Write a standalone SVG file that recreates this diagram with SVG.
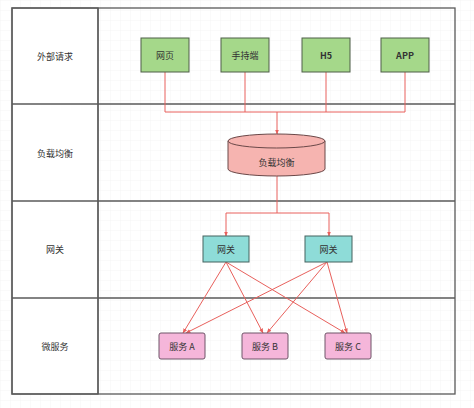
<svg xmlns="http://www.w3.org/2000/svg" width="474" height="408" viewBox="0 0 474 408">
  <defs>
    <pattern id="grid" width="10" height="10" patternUnits="userSpaceOnUse">
      <path d="M10 0H0V10" fill="none" stroke="#ececec" stroke-width="0.6"/>
    </pattern>
    <marker id="arr" viewBox="0 0 10 10" refX="9" refY="5" markerWidth="5" markerHeight="5" orient="auto-start-reverse">
      <path d="M0 1 L10 5 L0 9 Z" fill="#e8605c"/>
    </marker>
    <style>
      .lane { fill: none; stroke: #5a5a5a; stroke-width: 1.3; }
      .label { fill: #ffffff; stroke: #5a5a5a; stroke-width: 1.3; }
      .txt { font-family: "Noto Sans CJK SC", "Liberation Sans", sans-serif; font-size: 9px; fill: #333333; text-anchor: middle; dominant-baseline: central; }
      .green { fill: #a5d88a; stroke: #4f5f49; stroke-width: 1; }
      .cyan { fill: #8edcd8; stroke: #45625f; stroke-width: 1; }
      .pink { fill: #f5b6da; stroke: #6f5468; stroke-width: 1; }
      .cyl { fill: #f6b4b0; stroke: #6a4848; stroke-width: 1; }
      .conn { fill: none; stroke: #e8605c; stroke-width: 1; }
    </style>
  </defs>
  <rect x="0" y="0" width="474" height="408" fill="#ffffff"/>
  <rect x="0" y="0" width="474" height="408" fill="url(#grid)"/>

  <g id="lanes">
    <rect class="label" x="12" y="8" width="86" height="386"/>
    <rect class="lane" x="12" y="8" width="443" height="386"/>
    <line class="lane" x1="12" y1="104" x2="455" y2="104"/>
    <line class="lane" x1="12" y1="201" x2="455" y2="201"/>
    <line class="lane" x1="12" y1="298" x2="455" y2="298"/>
    <line class="lane" x1="98" y1="8" x2="98" y2="394"/>
  </g>

  <g id="lane-labels">
    <text class="txt" x="55" y="56">外部请求</text>
    <text class="txt" x="55" y="153">负载均衡</text>
    <text class="txt" x="55" y="249">网关</text>
    <text class="txt" x="55" y="346">微服务</text>
  </g>

  <g id="connectors">
    <path class="conn" d="M165 72V112H405V72"/>
    <path class="conn" d="M245 72V112"/>
    <path class="conn" d="M326 72V112"/>
    <path class="conn" d="M277 112V134" marker-end="url(#arr)"/>
    <path class="conn" d="M277 176V213H226V236" marker-end="url(#arr)"/>
    <path class="conn" d="M277 213H329V236" marker-end="url(#arr)"/>
    <path class="conn" d="M226 262L183 333" marker-end="url(#arr)"/>
    <path class="conn" d="M226 262L263 333" marker-end="url(#arr)"/>
    <path class="conn" d="M226 262L345 333" marker-end="url(#arr)"/>
    <path class="conn" d="M327 262L186 333" marker-end="url(#arr)"/>
    <path class="conn" d="M327 262L267 333" marker-end="url(#arr)"/>
    <path class="conn" d="M327 262L347 333" marker-end="url(#arr)"/>
  </g>

  <g id="web">
    <rect class="green" x="141" y="38" width="48" height="34"/>
    <text class="txt" x="165" y="55">网页</text>
  </g>
  <g id="handheld">
    <rect class="green" x="221" y="38" width="48" height="34"/>
    <text class="txt" x="245" y="55">手持端</text>
  </g>
  <g id="h5">
    <rect class="green" x="302" y="38" width="48" height="34"/>
    <text class="txt" x="326" y="55" font-weight="bold">H5</text>
  </g>
  <g id="app">
    <rect class="green" x="381" y="38" width="48" height="34"/>
    <text class="txt" x="405" y="55" font-weight="bold">APP</text>
  </g>

  <g id="loadbalancer">
    <path class="cyl" d="M228 141A48.5 7 0 0 1 325 141V169A48.5 7 0 0 1 228 169Z"/>
    <path class="cyl" d="M228 141A48.5 7 0 0 0 325 141" fill="none"/>
    <text class="txt" x="276.5" y="162">负载均衡</text>
  </g>

  <g id="gateway1">
    <rect class="cyan" x="203" y="236" width="46" height="26"/>
    <text class="txt" x="226" y="249">网关</text>
  </g>
  <g id="gateway2">
    <rect class="cyan" x="305" y="236" width="47" height="26"/>
    <text class="txt" x="328.5" y="249">网关</text>
  </g>

  <g id="serviceA">
    <rect class="pink" x="159" y="333" width="46" height="26" rx="2"/>
    <text class="txt" x="182" y="346">服务 A</text>
  </g>
  <g id="serviceB">
    <rect class="pink" x="242" y="333" width="46" height="26" rx="2"/>
    <text class="txt" x="265" y="346">服务 B</text>
  </g>
  <g id="serviceC">
    <rect class="pink" x="325" y="333" width="46" height="26" rx="2"/>
    <text class="txt" x="348" y="346">服务 C</text>
  </g>
</svg>
